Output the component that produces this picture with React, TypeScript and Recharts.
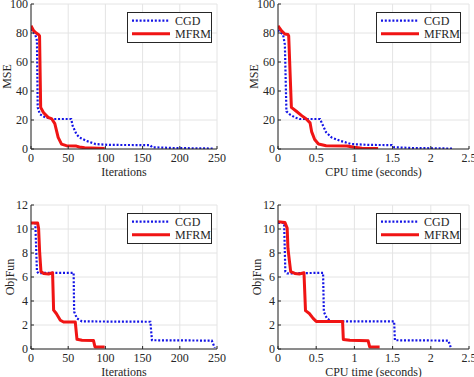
import React from 'react';
import { LineChart, Line, XAxis, YAxis, CartesianGrid, Label } from 'recharts';

const iterTicks = [0, 50, 100, 150, 200, 250];
const timeTicks = [0, 0.5, 1, 1.5, 2, 2.5];
const mseTicks = [0, 20, 40, 60, 80, 100];
const objTicks = [0, 2, 4, 6, 8, 10, 12];

// MSE vs iterations
const cgdMseIter = [
  { x: 0, y: 82.7 }, { x: 5.7, y: 79 }, { x: 8, y: 74.7 }, { x: 9, y: 28.7 }, { x: 12, y: 24 },
  { x: 19, y: 21.8 }, { x: 28, y: 20.7 }, { x: 54, y: 20.7 }, { x: 56, y: 16 }, { x: 61, y: 10.3 },
  { x: 65, y: 8 }, { x: 74, y: 5.7 }, { x: 87, y: 3.4 }, { x: 105, y: 2.8 }, { x: 160, y: 2.7 },
  { x: 163, y: 1.2 }, { x: 190, y: 0.7 }, { x: 245, y: 0.3 },
];
const mfrmMseIter = [
  { x: 0, y: 85 }, { x: 3.5, y: 81.6 }, { x: 7, y: 80 }, { x: 10, y: 79 }, { x: 11.5, y: 78 },
  { x: 13, y: 28.7 }, { x: 16.7, y: 25.2 }, { x: 23, y: 21.8 }, { x: 28, y: 20.7 }, { x: 32, y: 17.5 },
  { x: 36.5, y: 8 }, { x: 41, y: 3.4 }, { x: 47.5, y: 2.3 }, { x: 61, y: 2 }, { x: 65, y: 1.4 },
  { x: 72, y: 0.8 }, { x: 99, y: 0.3 },
];

// MSE vs CPU time
const cgdMseTime = [
  { x: 0, y: 82 }, { x: 0.066, y: 79 }, { x: 0.09, y: 72 }, { x: 0.11, y: 26 }, { x: 0.15, y: 24 },
  { x: 0.22, y: 21.8 }, { x: 0.28, y: 20.7 }, { x: 0.55, y: 20.7 }, { x: 0.59, y: 16 }, { x: 0.63, y: 11.5 },
  { x: 0.7, y: 8 }, { x: 0.81, y: 5.7 }, { x: 0.96, y: 3.4 }, { x: 1.2, y: 2.8 }, { x: 1.49, y: 2.7 },
  { x: 1.52, y: 1.2 }, { x: 1.75, y: 0.7 }, { x: 2.28, y: 0.3 },
];
const mfrmMseTime = [
  { x: 0, y: 85 }, { x: 0.044, y: 81.6 }, { x: 0.09, y: 79.3 }, { x: 0.13, y: 79 }, { x: 0.14, y: 78 },
  { x: 0.175, y: 28.7 }, { x: 0.24, y: 26 }, { x: 0.31, y: 23 }, { x: 0.37, y: 20.7 }, { x: 0.42, y: 18 },
  { x: 0.44, y: 12 }, { x: 0.48, y: 6.5 }, { x: 0.53, y: 3.4 }, { x: 0.63, y: 2.3 }, { x: 0.9, y: 2 },
  { x: 1.0, y: 1.2 }, { x: 1.1, y: 0.6 }, { x: 1.31, y: 0.3 },
];

// ObjFun vs iterations
const cgdObjIter = [
  { x: 0, y: 10.5 }, { x: 5.8, y: 10.5 }, { x: 8, y: 6.45 }, { x: 10.2, y: 6.3 }, { x: 20, y: 6.35 },
  { x: 57.3, y: 6.35 }, { x: 58, y: 3.1 }, { x: 61.8, y: 2.55 }, { x: 68.5, y: 2.3 }, { x: 160.4, y: 2.27 },
  { x: 162.6, y: 0.73 }, { x: 243, y: 0.7 }, { x: 247, y: 0.1 },
];
const mfrmObjIter = [
  { x: 0, y: 10.5 }, { x: 8.9, y: 10.5 }, { x: 10.2, y: 10.07 }, { x: 11.6, y: 8.1 }, { x: 13.4, y: 6.45 },
  { x: 17, y: 6.3 }, { x: 23.7, y: 6.25 }, { x: 29, y: 6.35 }, { x: 30.4, y: 3.24 }, { x: 34, y: 2.96 },
  { x: 39.4, y: 2.4 }, { x: 43.8, y: 2.25 }, { x: 59.5, y: 2.25 }, { x: 61.8, y: 0.81 }, { x: 68.5, y: 0.73 },
  { x: 84, y: 0.7 }, { x: 86, y: 0.17 }, { x: 99, y: 0.17 },
];

// ObjFun vs CPU time
const cgdObjTime = [
  { x: 0, y: 10.5 }, { x: 0.08, y: 10.5 }, { x: 0.096, y: 6.45 }, { x: 0.12, y: 6.3 }, { x: 0.59, y: 6.35 },
  { x: 0.6, y: 3.1 }, { x: 0.64, y: 2.55 }, { x: 0.7, y: 2.3 }, { x: 1.52, y: 2.3 }, { x: 1.53, y: 0.73 },
  { x: 2.23, y: 0.7 }, { x: 2.26, y: 0.15 },
];
const mfrmObjTime = [
  { x: 0, y: 10.6 }, { x: 0.09, y: 10.55 }, { x: 0.12, y: 10.07 }, { x: 0.13, y: 8.4 }, { x: 0.15, y: 7.3 },
  { x: 0.166, y: 6.45 }, { x: 0.22, y: 6.3 }, { x: 0.28, y: 6.25 }, { x: 0.34, y: 6.35 }, { x: 0.36, y: 3.2 },
  { x: 0.41, y: 2.96 }, { x: 0.46, y: 2.55 }, { x: 0.5, y: 2.3 }, { x: 0.845, y: 2.3 }, { x: 0.855, y: 0.8 },
  { x: 0.94, y: 0.73 }, { x: 1.18, y: 0.68 }, { x: 1.2, y: 0.17 }, { x: 1.33, y: 0.17 },
];

const INK = '#262626';
const BLUE = '#1414e6';
const RED = '#f01414';

function LegendBox({ left, top }: { left: number; top: number }) {
  return (
    <svg style={{ position: 'absolute', left, top, overflow: 'visible' }} width={85} height={31}>
      <rect x={0.5} y={0.5} width={84} height={30} fill="#fff" stroke={INK} strokeWidth={1} />
      <line x1={5} x2={43} y1={8.7} y2={8.7} stroke={BLUE} strokeWidth={2.2} strokeDasharray="2 1.8" />
      <line x1={5} x2={43} y1={21.7} y2={21.7} stroke={RED} strokeWidth={3} />
      <text x={48} y={13} fontSize={12} fill={INK}>CGD</text>
      <text x={48} y={26} fontSize={12} fill={INK}>MFRM</text>
    </svg>
  );
}

type PanelProps = {
  box: { left: number; top: number; w: number; h: number };
  plot: { l: number; t: number; r: number; b: number };
  xDomain: number[];
  xTicks: number[];
  yDomain: number[];
  yTicks: number[];
  xLabel: string;
  yLabel: string;
  yLabelGap: number;
  cgd: { x: number; y: number }[];
  mfrm: { x: number; y: number }[];
};

function Panel({ box, plot, xDomain, xTicks, yDomain, yTicks, xLabel, yLabel, yLabelGap, cgd, mfrm }: PanelProps) {
  const yAxisWidth = plot.l - box.left;
  const xAxisHeight = box.top + box.h - plot.b;
  const tickStyle = { fontSize: 12, fill: INK };

  return (
    <div style={{ position: 'absolute', left: box.left, top: box.top, width: box.w, height: box.h }}>
      <LineChart
        width={box.w}
        height={box.h}
        margin={{ top: plot.t - box.top, right: box.left + box.w - plot.r, left: 0, bottom: 0 }}
      >
        <CartesianGrid stroke="#e4e4e4" />
        <XAxis
          type="number"
          dataKey="x"
          domain={xDomain}
          ticks={xTicks}
          interval={0}
          allowDataOverflow
          height={xAxisHeight}
          stroke={INK}
          tickSize={-3}
          tickMargin={7}
          tick={tickStyle}
        >
          <Label
            content={(p: any) => {
              const vb = p.viewBox;
              return (
                <text x={vb.x + vb.width / 2} y={vb.y + 27} textAnchor="middle" fontSize={12} fill={INK}>
                  {xLabel}
                </text>
              );
            }}
          />
        </XAxis>
        <XAxis
          xAxisId="top"
          orientation="top"
          type="number"
          domain={xDomain}
          ticks={xTicks}
          interval={0}
          height={0}
          stroke={INK}
          tickSize={-3}
          tick={false}
        />
        <YAxis
          type="number"
          domain={yDomain}
          ticks={yTicks}
          interval={0}
          allowDataOverflow
          width={yAxisWidth}
          stroke={INK}
          tickSize={-3}
          tickMargin={6}
          tick={tickStyle}
        >
          <Label
            content={(p: any) => {
              const vb = p.viewBox;
              const cx = vb.x + vb.width - yLabelGap;
              const cy = vb.y + vb.height / 2;
              return (
                <text
                  x={cx}
                  y={cy}
                  transform={`rotate(-90 ${cx} ${cy})`}
                  textAnchor="middle"
                  dominantBaseline="central"
                  fontSize={12}
                  fill={INK}
                >
                  {yLabel}
                </text>
              );
            }}
          />
        </YAxis>
        <YAxis
          yAxisId="right"
          orientation="right"
          type="number"
          domain={yDomain}
          ticks={yTicks}
          interval={0}
          width={0}
          stroke={INK}
          tickSize={-3}
          tick={false}
        />
        <Line
          data={cgd}
          dataKey="y"
          type="linear"
          stroke={BLUE}
          strokeWidth={2.2}
          strokeDasharray="2 1.8"
          dot={false}
          isAnimationActive={false}
        />
        <Line
          data={mfrm}
          dataKey="y"
          type="linear"
          stroke={RED}
          strokeWidth={3}
          strokeLinejoin="round"
          dot={false}
          isAnimationActive={false}
        />
      </LineChart>
    </div>
  );
}

export default function App() {
  return (
    <div
      style={{
        position: 'absolute',
        left: 0,
        top: 0,
        width: 474,
        height: 377,
        background: '#fff',
        overflow: 'hidden',
        fontFamily: "'Liberation Serif', 'Times New Roman', serif",
      }}
    >
      <Panel
        box={{ left: 0, top: 0, w: 237, h: 188 }}
        plot={{ l: 31, t: 4, r: 217, b: 149 }}
        xDomain={[0, 250]}
        xTicks={iterTicks}
        yDomain={[0, 100]}
        yTicks={mseTicks}
        xLabel="Iterations"
        yLabel="MSE"
        yLabelGap={24}
        cgd={cgdMseIter}
        mfrm={mfrmMseIter}
      />
      <Panel
        box={{ left: 237, top: 0, w: 237, h: 188 }}
        plot={{ l: 278, t: 4, r: 469, b: 149 }}
        xDomain={[0, 2.5]}
        xTicks={timeTicks}
        yDomain={[0, 100]}
        yTicks={mseTicks}
        xLabel="CPU time (seconds)"
        yLabel="MSE"
        yLabelGap={24}
        cgd={cgdMseTime}
        mfrm={mfrmMseTime}
      />
      <Panel
        box={{ left: 0, top: 188, w: 237, h: 189 }}
        plot={{ l: 31, t: 205, r: 217, b: 349 }}
        xDomain={[0, 250]}
        xTicks={iterTicks}
        yDomain={[0, 12]}
        yTicks={objTicks}
        xLabel="Iterations"
        yLabel="ObjFun"
        yLabelGap={21}
        cgd={cgdObjIter}
        mfrm={mfrmObjIter}
      />
      <Panel
        box={{ left: 237, top: 188, w: 237, h: 189 }}
        plot={{ l: 278, t: 205, r: 469, b: 349 }}
        xDomain={[0, 2.5]}
        xTicks={timeTicks}
        yDomain={[0, 12]}
        yTicks={objTicks}
        xLabel="CPU time (seconds)"
        yLabel="ObjFun"
        yLabelGap={21}
        cgd={cgdObjTime}
        mfrm={mfrmObjTime}
      />
      <LegendBox left={127} top={12} />
      <LegendBox left={376} top={12} />
      <LegendBox left={127} top={213} />
      <LegendBox left={376} top={213} />
    </div>
  );
}
